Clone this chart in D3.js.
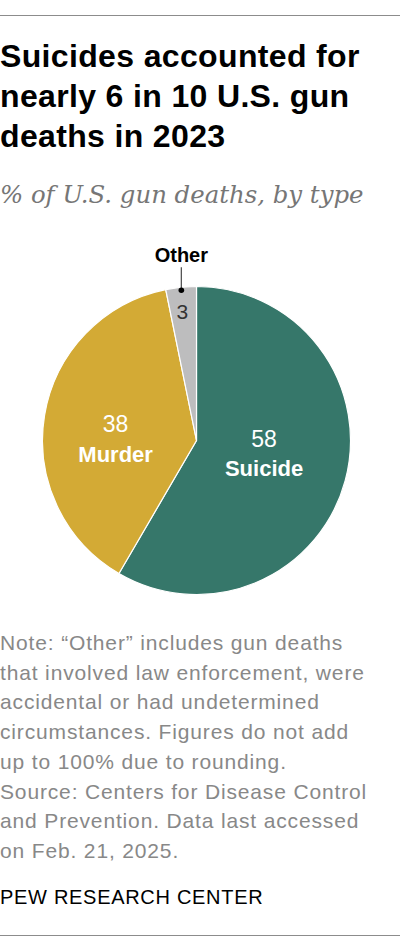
<!DOCTYPE html>
<html>
<head>
<meta charset="utf-8">
<script src="https://cdn.jsdelivr.net/npm/d3@7"></script>
<style>
  html, body { margin: 0; padding: 0; background: #fff; }
  svg { display: block; }
</style>
</head>
<body>
<svg id="chart" width="400" height="952"></svg>
<script>
// ---- Data ----
const categories = ["Suicide", "Murder", "Other"];
const shares = [58.4, 38.4, 3.2];          // % of U.S. gun deaths (labels shown rounded)
const shownLabels = ["58", "38", "3"];

const titleLines = ["Suicides accounted for", "nearly 6 in 10 U.S. gun", "deaths in 2023"];
const subtitle = "% of U.S. gun deaths, by type";
const noteLines = [
  "Note: \u201cOther\u201d includes gun deaths",
  "that involved law enforcement, were",
  "accidental or had undetermined",
  "circumstances. Figures do not add",
  "up to 100% due to rounding.",
  "Source: Centers for Disease Control",
  "and Prevention. Data last accessed",
  "on Feb. 21, 2025."
];
const credit = "PEW RESEARCH CENTER";

// ---- Styles / layout ----
const colors = d3.scaleOrdinal().domain(categories).range(["#36776a", "#d3aa35", "#bdbdbe"]);
const sans = "'Liberation Sans', Arial, sans-serif";
const serif = "'DejaVu Serif', Georgia, serif";
const cx = 196.5, cy = 440.5, R = 154;

const svg = d3.select("#chart");

// rules
svg.append("line").attr("x1", 0).attr("x2", 400).attr("y1", 15.5).attr("y2", 15.5)
  .attr("stroke", "#8c8c8c").attr("stroke-width", 1);
svg.append("line").attr("x1", 0).attr("x2", 400).attr("y1", 935.5).attr("y2", 935.5)
  .attr("stroke", "#8c8c8c").attr("stroke-width", 1);

// title
svg.append("g").selectAll("text").data(titleLines).join("text")
  .attr("x", 0).attr("y", (d, i) => 67 + i * 40)
  .attr("font-family", sans).attr("font-weight", 700).attr("font-size", 32)
  .attr("letter-spacing", 0.35)
  .attr("fill", "#000").text(d => d);

// subtitle
svg.append("text").attr("x", 0).attr("y", 203)
  .attr("font-family", serif).attr("font-style", "italic").attr("font-size", 24.4)
  .attr("fill", "#767676").text(subtitle);

// pie
const pie = d3.pie().sort(null).value(d => d.value);
const data = categories.map((c, i) => ({ name: c, value: shares[i], label: shownLabels[i] }));
const arcs = pie(data);
const arc = d3.arc().innerRadius(0).outerRadius(R);
const g = svg.append("g").attr("transform", `translate(${cx},${cy})`);

g.selectAll("path").data(arcs).join("path")
  .attr("d", arc)
  .attr("fill", d => colors(d.data.name))
  .attr("stroke", "#fff").attr("stroke-width", 1.2);

// labels inside big slices
const labelLayout = {
  Suicide: { r: 70, numDy: -12, nameDy: 17 },
  Murder: { r: 82, numDy: 5, nameDy: 35 }
};
arcs.filter(d => labelLayout[d.data.name]).forEach(d => {
  const L = labelLayout[d.data.name];
  const [x, y] = d3.arc().innerRadius(L.r).outerRadius(L.r).centroid(d);
  g.append("text").attr("x", x).attr("y", y + L.numDy).attr("text-anchor", "middle")
    .attr("font-family", sans).attr("font-weight", 300).attr("font-size", 23)
    .attr("fill", "#fff").text(d.data.label);
  g.append("text").attr("x", x).attr("y", y + L.nameDy).attr("text-anchor", "middle")
    .attr("font-family", sans).attr("font-weight", 700).attr("font-size", 22)
    .attr("fill", "#fff").text(d.data.name);
});

// "Other" slice: value inside, name above with leader
const other = arcs.find(d => d.data.name === "Other");
const [ox, oy] = d3.arc().innerRadius(130).outerRadius(130).centroid(other);
g.append("text").attr("x", ox - 1).attr("y", oy + 8).attr("text-anchor", "middle")
  .attr("font-family", sans).attr("font-weight", 300).attr("font-size", 21)
  .attr("fill", "#333").text(other.data.label);
const [dx, dy] = d3.arc().innerRadius(151).outerRadius(151).centroid(other);
g.append("line").attr("x1", dx).attr("x2", dx).attr("y1", dy).attr("y2", dy - 23)
  .attr("stroke", "#555").attr("stroke-width", 1.3);
g.append("circle").attr("cx", dx).attr("cy", dy).attr("r", 2.8).attr("fill", "#000");
g.append("text").attr("x", dx).attr("y", dy - 28).attr("text-anchor", "middle")
  .attr("font-family", sans).attr("font-weight", 700).attr("font-size", 20)
  .attr("fill", "#000").text(other.data.name);

// notes
svg.append("g").selectAll("text").data(noteLines).join("text")
  .attr("x", 0).attr("y", (d, i) => 650 + i * 29.7)
  .attr("font-family", sans).attr("font-size", 21).attr("letter-spacing", 0.85)
  .attr("fill", "#888").text(d => d);

// credit
svg.append("text").attr("x", 0).attr("y", 904)
  .attr("font-family", sans).attr("font-size", 20).attr("letter-spacing", 0.7)
  .attr("fill", "#000").text(credit);
</script>
</body>
</html>
